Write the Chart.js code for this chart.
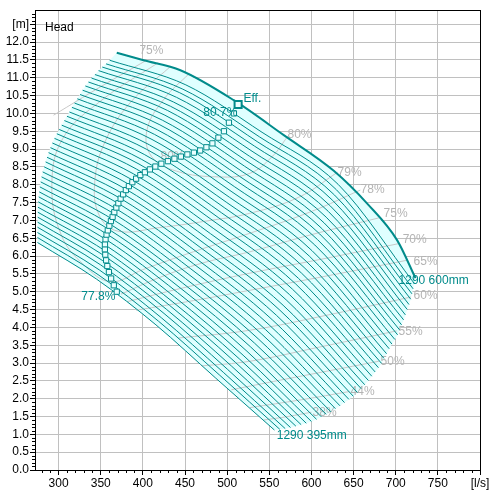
<!DOCTYPE html>
<html>
<head>
<meta charset="utf-8">
<script src="https://cdn.jsdelivr.net/npm/chart.js@4.4.1/dist/chart.umd.min.js"></script>
<style>
  body { margin: 0; background: #fff; }
  canvas { display: block; }
</style>
</head>
<body>
<canvas id="pump" width="500" height="500"></canvas>
<script>
// thin impeller curves 395..595 mm (bottom to top), read at start, 1/4, 1/2, 3/4, end
const diameters = [395,400,405,410,415,420,425,430,435,440,445,450,455,460,465,470,475,480,485,490,495,500,505,510,515,520,525,530,535,540,545,550,555,560,565,570,575,580,585,590,595];
const startQ = [274.9,274.9,274.9,274.9,275.1,275.2,275.3,275.5,275.8,276.4,277.0,277.7,278.7,279.8,281.1,282.9,284.6,286.3,288.1,290.3,292.6,295.1,297.9,300.7,303.7,306.8,309.9,312.8,315.8,318.9,322.2,325.4,328.5,331.7,335.4,339.1,343.1,347.4,351.8,356.3,360.6];
const startH = [6.38,6.52,6.66,6.81,6.95,7.09,7.23,7.37,7.52,7.66,7.80,7.94,8.08,8.22,8.36,8.50,8.64,8.77,8.90,9.04,9.17,9.30,9.43,9.55,9.67,9.80,9.92,10.04,10.17,10.29,10.41,10.53,10.65,10.77,10.88,10.99,11.09,11.20,11.30,11.39,11.49];
const q25 = [345.2,346.8,348.4,350.0,351.7,353.4,354.9,356.6,358.4,360.3,362.1,364.1,366.2,368.3,370.7,373.3,375.9,378.4,380.9,383.6,386.4,389.2,392.3,395.4,398.6,401.6,404.7,407.7,410.8,413.9,417.2,420.2,423.1,426.1,429.4,432.8,436.3,440.0,443.7,447.4,451.0];
const h25 = [5.35,5.48,5.61,5.75,5.88,6.02,6.15,6.29,6.43,6.57,6.71,6.85,7.00,7.15,7.29,7.44,7.58,7.72,7.86,8.01,8.15,8.30,8.44,8.58,8.71,8.85,8.99,9.12,9.27,9.41,9.54,9.68,9.81,9.95,10.08,10.20,10.32,10.45,10.58,10.68,10.80];
const q50 = [415.5,418.7,421.9,425.1,428.3,431.5,434.6,437.8,441.0,444.1,447.3,450.5,453.6,456.9,460.2,463.7,467.1,470.5,473.6,476.8,480.1,483.4,486.8,490.1,493.5,496.5,499.6,502.6,505.7,509.0,512.3,515.0,517.8,520.6,523.5,526.4,529.5,532.6,535.6,538.5,541.4];
const h50 = [4.07,4.17,4.27,4.39,4.50,4.62,4.73,4.85,4.98,5.11,5.24,5.37,5.50,5.64,5.78,5.92,6.06,6.20,6.34,6.49,6.63,6.78,6.93,7.07,7.21,7.36,7.50,7.65,7.80,7.94,8.09,8.23,8.37,8.52,8.66,8.80,8.94,9.08,9.21,9.34,9.47];
const q75 = [485.8,490.6,495.4,500.1,504.9,509.7,514.3,518.9,523.5,527.9,532.4,536.8,541.1,545.4,549.8,554.1,558.4,562.6,566.4,570.1,573.9,577.5,581.2,584.8,588.3,591.3,594.4,597.4,600.7,604.0,607.3,609.8,612.4,615.0,617.5,620.1,622.6,625.2,627.4,629.6,631.7];
const h75 = [2.59,2.67,2.74,2.83,2.92,3.02,3.12,3.22,3.33,3.45,3.56,3.68,3.81,3.94,4.07,4.20,4.34,4.48,4.62,4.77,4.92,5.07,5.22,5.37,5.52,5.68,5.84,6.00,6.15,6.31,6.46,6.62,6.77,6.93,7.09,7.25,7.40,7.56,7.71,7.86,8.01];
const endQ = [556.1,562.5,568.9,575.2,581.5,587.8,593.9,600.0,606.1,611.8,617.5,623.2,628.5,633.9,639.3,644.5,649.6,654.7,659.1,663.3,667.6,671.6,675.6,679.5,683.2,686.1,689.2,692.3,695.6,699.0,702.3,704.6,707.0,709.4,711.5,713.7,715.8,717.8,719.3,720.7,722.1];
const endH = [1.12,1.14,1.16,1.19,1.23,1.27,1.31,1.36,1.42,1.49,1.56,1.63,1.72,1.80,1.89,1.98,2.07,2.17,2.28,2.39,2.51,2.63,2.75,2.87,2.99,3.13,3.26,3.40,3.53,3.66,3.79,3.93,4.07,4.21,4.35,4.50,4.64,4.79,4.94,5.08,5.23];

// full diameter 600 mm
const topQ = [369.0,400.9,444.5,507.8,567.2,626.5,666.2,701.8,723.5];
const topH = [11.70,11.49,11.21,10.37,9.39,8.39,7.47,6.44,5.38];

// best efficiency points, 395 -> 600 mm
const bepQ = [369.0,365.5,362.3,359.7,357.8,356.4,355.4,354.9,355.0,355.7,356.9,358.4,360.2,362.1,364.1,366.1,368.5,370.9,373.6,376.6,379.8,383.4,387.5,392.0,397.0,402.4,408.3,414.8,421.9,429.7,437.4,445.1,452.8,460.5,468.0,475.4,482.5,489.6,496.2,502.1,508.0,513.0];
const bepH = [5.00,5.18,5.37,5.55,5.72,5.88,6.04,6.19,6.33,6.47,6.60,6.72,6.85,6.98,7.10,7.23,7.36,7.48,7.61,7.73,7.85,7.96,8.07,8.17,8.27,8.35,8.43,8.51,8.59,8.66,8.73,8.79,8.85,8.90,8.96,9.05,9.16,9.32,9.50,9.74,10.00,10.25];

// iso-efficiency lines [Q, H]
const eff38 = [[543,1.40],[572,1.50],[600,1.62]];
const eff44 = [[527,1.75],[588,1.97],[645,2.20]];
const eff50 = [[505,2.25],[563,2.52],[680,3.05]];
const eff55 = [[470,2.92],[527,3.05],[610,3.45],[701,3.90]];
const eff60 = [[442,3.70],[527,3.92],[620,4.35],[718,4.85]];
const eff65 = [[392,4.48],[460,4.75],[527,5.04],[620,5.45],[713,5.88]];
const eff70 = [[381,4.72],[450,5.12],[527,5.52],[620,5.95],[704,6.35]];
const eff75 = [[374,4.93],[420,5.40],[470,5.80],[527,6.12],[600,6.60],[680,7.07]];
const eff75left = [[294,9.95],[350,10.75],[405,11.50]];
const eff78 = [[418,11.42],[350,10.35],[305,9.30],[292,8.00],[303,6.60],[330,5.75],[362,5.28],[400,5.62],[460,6.12],[527,6.64],[600,7.25],[658,7.85]];
const eff79 = [[432,11.30],[385,10.30],[355,9.20],[343,8.10],[348,7.15],[370,6.70],[420,6.80],[475,6.98],[527,7.20],[585,7.65],[631,8.35]];
const eff80 = [[455,11.12],[425,10.40],[405,9.55],[410,8.80],[440,8.38],[490,8.22],[527,8.32],[553,8.78],[572,9.36]];

const effText = ['75%','80%','79%','78%','75%','70%','65%','60%','55%','50%','44%','38%','80%'];
const effTextQ = [395.9,571.6,631.0,658.3,685.6,708.2,721.2,721.2,703.4,682.0,646.4,601.3,420.9];
const effTextH = [11.77,9.39,8.35,7.85,7.20,6.45,5.83,4.90,3.89,3.05,2.19,1.60,8.80];

const noteText = ['Eff.','80.7%','77.8%','1290 600mm','1290 395mm'];
const noteQ = [519.3,471.7,327.0,703.4,558.8];
const noteH = [10.42,10.02,4.85,5.30,0.95];

const xTicks = [300,350,400,450,500,550,600,650,700,750,800];
const yTicks = [0,0.5,1,1.5,2,2.5,3,3.5,4,4.5,5,5.5,6,6.5,7,7.5,8,8.5,9,9.5,10,10.5,11,11.5,12,12.5];

const TEAL = '#008b8b';
const GRAY = '#c8c8c8';
const FONT = '"Liberation Sans", Arial, sans-serif';

const pts = (qs, hs) => qs.map((q, i) => ({ x: q, y: hs[i] }));
const pairs = arr => arr.map(p => ({ x: p[0], y: p[1] }));

const envelope = [
  ...pts(topQ, topH),
  ...pts(endQ, endH).reverse(),
  { x: q75[0], y: h75[0] }, { x: q50[0], y: h50[0] }, { x: q25[0], y: h25[0] },
  ...pts(startQ, startH)
];

const datasets = [];
datasets.push({
  label: 'area', data: envelope, fill: 'shape', backgroundColor: '#e0ffff',
  borderWidth: 0, borderColor: 'rgba(0,0,0,0)', pointRadius: 0, tension: 0, order: 100
});
[eff38, eff44, eff50, eff55, eff60, eff65, eff70, eff75, eff75left, eff78, eff79, eff80].forEach(c => {
  datasets.push({ data: pairs(c), borderColor: GRAY, borderWidth: 1, pointRadius: 0, tension: 0.4, fill: false, order: 50 });
});
diameters.forEach((d, i) => {
  datasets.push({
    label: d + 'mm',
    data: [
      { x: startQ[i], y: startH[i] }, { x: q25[i], y: h25[i] }, { x: q50[i], y: h50[i] },
      { x: q75[i], y: h75[i] }, { x: endQ[i], y: endH[i] }
    ],
    borderColor: TEAL, borderWidth: 1, pointRadius: 0, cubicInterpolationMode: 'monotone', fill: false, order: 10
  });
});
datasets.push({
  label: '600mm', data: pts(topQ, topH), borderColor: TEAL, borderWidth: 2,
  pointRadius: 0, cubicInterpolationMode: 'monotone', fill: false, order: 9
});
datasets.push({
  label: 'Eff.', data: pts(bepQ, bepH), borderColor: TEAL, borderWidth: 1, showLine: false,
  pointStyle: 'rect', pointRadius: bepQ.map((q, i) => i === bepQ.length - 1 ? 5 : 3.7),
  pointBorderWidth: bepQ.map((q, i) => i === bepQ.length - 1 ? 2 : 1),
  pointBackgroundColor: '#eaffff', pointBorderColor: TEAL, fill: false, order: 0
});

const decor = {
  id: 'decor',
  afterDatasetDraw(chart, args) {
    if (args.index !== 0) return;
    const { ctx, scales: { x, y } } = chart;
    ctx.save();
    ctx.font = '12px ' + FONT;
    ctx.fillStyle = '#b4b4b4';
    ctx.textBaseline = 'middle';
    ctx.textAlign = 'left';
    effText.forEach((t, i) => ctx.fillText(t, x.getPixelForValue(effTextQ[i]), y.getPixelForValue(effTextH[i])));
    ctx.restore();
  },
  afterDatasetsDraw(chart) {
    const { ctx, chartArea: a, scales: { x, y } } = chart;
    ctx.save();
    ctx.font = '12px ' + FONT;
    ctx.textBaseline = 'middle';
    ctx.textAlign = 'left';
    ctx.fillStyle = TEAL;
    noteText.forEach((t, i) => ctx.fillText(t, x.getPixelForValue(noteQ[i]), y.getPixelForValue(noteH[i])));
    ctx.fillStyle = '#000';
    ctx.fillText('Head', a.left + 10, a.top + 18);
    // frame
    ctx.strokeStyle = '#000';
    ctx.lineWidth = 1;
    ctx.strokeRect(Math.round(a.left) + 0.5, Math.round(a.top) + 0.5, Math.round(a.right - a.left), Math.round(a.bottom - a.top));
    // minor ticks
    ctx.beginPath();
    for (let v = 1; v < 129; v++) {
      if (v % 5 === 0) continue;
      const py = Math.round(y.getPixelForValue(v / 10)) + 0.5;
      ctx.moveTo(a.left - 3, py); ctx.lineTo(a.left, py);
    }
    for (let v = 280; v < 800; v += 10) {
      if (v % 50 === 0) continue;
      const px = Math.round(x.getPixelForValue(v)) + 0.5;
      ctx.moveTo(px, a.bottom); ctx.lineTo(px, a.bottom + 3);
    }
    ctx.stroke();
    ctx.restore();
  }
};

Chart.defaults.font.family = FONT;
Chart.defaults.font.size = 12;
Chart.defaults.color = '#000';

new Chart(document.getElementById('pump'), {
  type: 'line',
  data: { datasets },
  options: {
    responsive: false,
    animation: false,
    events: [],
    layout: { padding: { top: 10, right: 20, left: 0, bottom: 0 } },
    plugins: { legend: { display: false }, tooltip: { enabled: false }, title: { display: false } },
    scales: {
      x: {
        type: 'linear', min: 272, max: 800,
        afterBuildTicks: s => { s.ticks = xTicks.map(v => ({ value: v })); },
        afterFit: s => { s.height = 30; },
        ticks: { autoSkip: false, maxRotation: 0, padding: 1, callback: v => v === 800 ? '[l/s]' : String(v) },
        grid: { color: '#c0c0c0', tickColor: '#000', tickLength: 5 },
        border: { color: '#000' }
      },
      y: {
        type: 'linear', min: 0, max: 12.9,
        afterBuildTicks: s => { s.ticks = yTicks.map(v => ({ value: v })); },
        afterFit: s => { s.width = 35; },
        ticks: { autoSkip: false, padding: 1, callback: v => v === 12.5 ? '[m]' : v.toFixed(1) },
        grid: { color: '#c0c0c0', tickColor: '#000', tickLength: 5 },
        border: { color: '#000' }
      }
    }
  },
  plugins: [decor]
});
</script>
</body>
</html>
